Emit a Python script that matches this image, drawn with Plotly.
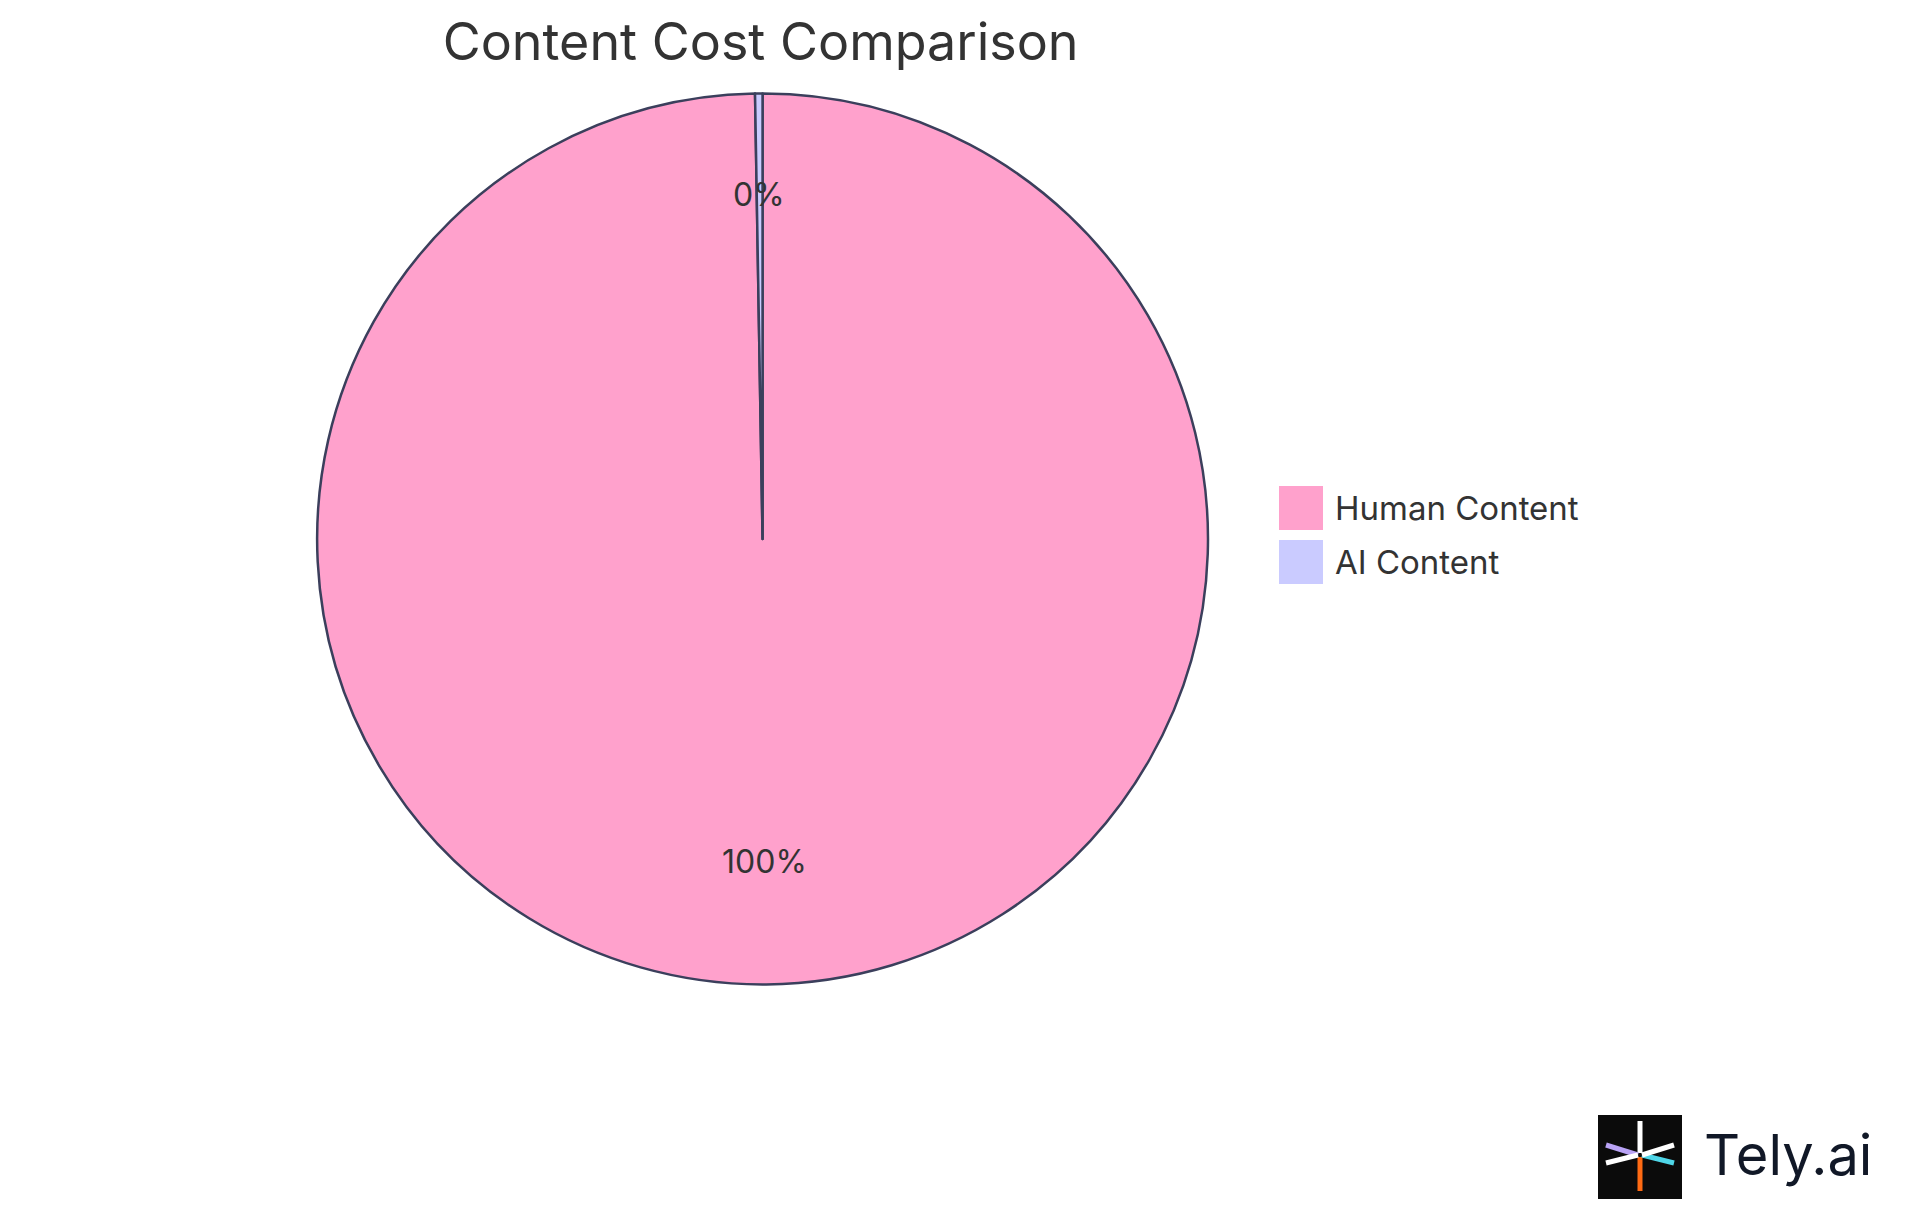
import plotly.graph_objects as go

labels = ["Human Content", "AI Content"]
values = [611, 1.65]
colors = ["#FFA1CC", "#CACBFF"]

W, H = 1920, 1215
def px(x): return x / W
def py(y): return 1 - y / H

total = sum(values)
pcts = [f"{round(v / total * 100)}%" for v in values]
label_pos = [(756, 853), (751, 187)]

fig = go.Figure(go.Pie(
    labels=labels, values=values, sort=False, direction="clockwise", rotation=0,
    marker=dict(colors=colors, line=dict(color="#3b3f5c", width=2.5)),
    textinfo="none", showlegend=False,
    domain=dict(x=[0.161, 0.625], y=[0.196, 0.930]),
))

shapes = []
annotations = []
for i, lab in enumerate(labels):
    x, y = label_pos[i]
    annotations.append(dict(text=pcts[i], xref="paper", yref="paper", x=px(x), y=py(y),
                            showarrow=False, xanchor="center", yanchor="middle",
                            font=dict(family="Inter", size=32, color="#333333")))
    y0 = 478 + i * 54
    shapes.append(dict(type="rect", xref="paper", yref="paper", x0=px(1271), x1=px(1315),
                       y0=py(y0 + 44), y1=py(y0), fillcolor=colors[i], line=dict(width=0)))
    annotations.append(dict(text=lab, xref="paper", yref="paper", x=px(1325), y=py(y0 + 22),
                            showarrow=False, xanchor="left", yanchor="middle",
                            font=dict(family="Inter", size=33, color="#333333")))

# logo
shapes.append(dict(type="rect", xref="paper", yref="paper", x0=px(1590), x1=px(1674),
                   y0=py(1191), y1=py(1107), fillcolor="#0b0b0b", line=dict(width=0)))
cx, cy = 1632, 1147
for (x0, y0, x1, y1, c) in [
    (cx, cy - 2, cx, cy - 34, "white"),
    (cx, cy + 2, cx, cy + 36, "#FF6A13"),
    (cx - 34, cy - 10, cx - 2, cy, "#B9A3F5"),
    (cx + 2, cy, cx + 34, cy + 8, "#4FD6E8"),
    (cx - 34, cy + 8, cx - 2, cy, "white"),
    (cx + 2, cy, cx + 34, cy - 10, "white"),
]:
    shapes.append(dict(type="line", xref="paper", yref="paper", x0=px(x0), x1=px(x1),
                       y0=py(y0), y1=py(y1), line=dict(color=c, width=5)))
annotations.append(dict(text="Tely.ai", xref="paper", yref="paper", x=px(1694), y=py(1147),
                        xanchor="left", yanchor="middle", showarrow=False,
                        font=dict(family="Inter", size=56, color="#111827")))

fig.update_layout(
    width=W, height=H, autosize=False,
    margin=dict(l=0, r=0, t=0, b=0),
    paper_bgcolor="white", plot_bgcolor="white",
    font=dict(family="Inter", color="#333333"),
    title=dict(text="Content Cost Comparison", x=0.392, xanchor="center", y=0.972, yanchor="middle",
               font=dict(size=52, color="#333333", family="Inter")),
    shapes=shapes, annotations=annotations,
)
fig.write_html("out.html")
